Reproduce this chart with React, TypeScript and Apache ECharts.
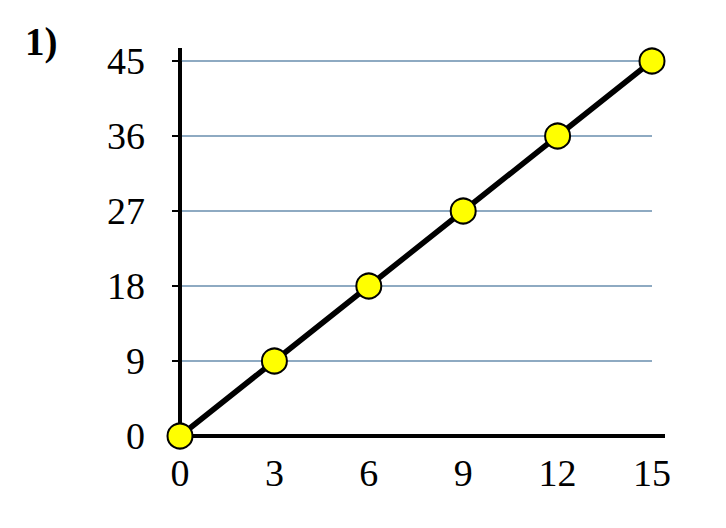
import React, { useEffect, useRef } from "react";
import * as echarts from "echarts";

const xValues = [0, 3, 6, 9, 12, 15];
const yValues = [0, 9, 18, 27, 36, 45];
const title = "1)";

export default function App() {
  const ref = useRef<HTMLDivElement>(null);
  useEffect(() => {
    if (!ref.current) return;
    const chart = echarts.init(ref.current, undefined, { renderer: "svg" });
    const font = "'Liberation Serif', 'Times New Roman', serif";
    chart.setOption({
      animation: false,
      backgroundColor: "#ffffff",
      grid: { left: 180, right: 74, top: 61, bottom: 92, containLabel: false },
      xAxis: {
        type: "value",
        min: 0,
        max: 15,
        interval: 3,
        axisLine: { show: true, onZero: false, lineStyle: { color: "#000", width: 4 } },
        axisTick: { show: false },
        splitLine: { show: false },
        axisLabel: { color: "#000", fontFamily: font, fontSize: 38, margin: 18 },
      },
      yAxis: {
        type: "value",
        min: 0,
        max: 45,
        interval: 9,
        axisLine: { show: true, onZero: false, lineStyle: { color: "#000", width: 4 } },
        axisTick: { show: true, length: 8, lineStyle: { color: "#000", width: 2 } },
        splitLine: { show: true, lineStyle: { color: "#8eaac2", width: 2 } },
        axisLabel: {
          color: "#000",
          fontFamily: font,
          fontSize: 38,
          margin: 35,
          padding: [0, 0, 8, 0],
        },
      },
      graphic: [
        {
          type: "text",
          left: 25,
          top: 22,
          style: { text: title, fontFamily: font, fontSize: 39, fontWeight: "bold", fill: "#000" },
        },
        {
          type: "line",
          shape: { x1: 650, y1: 436, x2: 665, y2: 436 },
          style: { stroke: "#000", lineWidth: 4 },
        },
        {
          type: "line",
          shape: { x1: 180, y1: 48, x2: 180, y2: 63 },
          style: { stroke: "#000", lineWidth: 4 },
        },
      ],
      series: [
        {
          type: "line",
          data: xValues.map((x, i) => [x, yValues[i]]),
          lineStyle: { color: "#000", width: 5.5 },
          symbol: "circle",
          symbolSize: 25,
          itemStyle: { color: "#ffff00", borderColor: "#000", borderWidth: 2 },
          z: 10,
          clip: false,
        },
      ],
    });
    return () => chart.dispose();
  }, []);
  return <div ref={ref} style={{ width: 726, height: 528, position: "absolute", left: 0, top: 0 }} />;
}
